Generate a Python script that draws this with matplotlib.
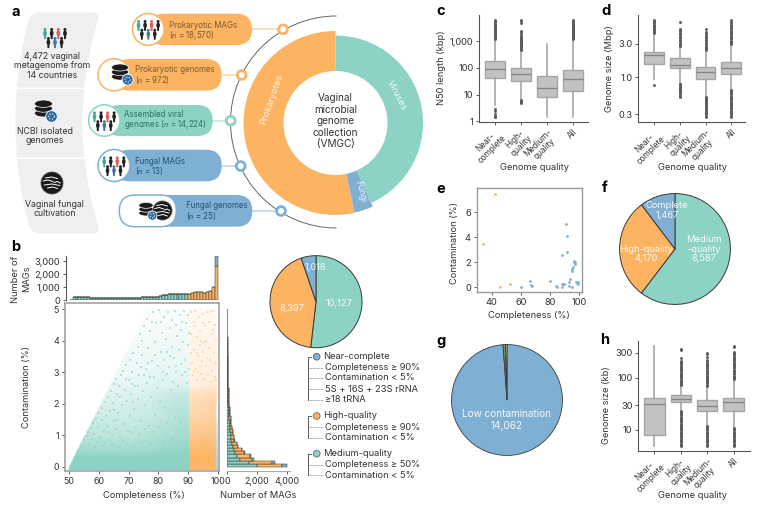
import numpy as np
import matplotlib
matplotlib.use('Agg')
import matplotlib.pyplot as plt
from matplotlib.patches import Circle, Ellipse, FancyBboxPatch, Wedge, Arc, Polygon
from matplotlib.colors import LinearSegmentedColormap
from matplotlib.ticker import FixedLocator, NullLocator, FuncFormatter

plt.rcParams['font.family'] = ['Inter', 'DejaVu Sans']
plt.rcParams['mathtext.fontset'] = 'custom'
plt.rcParams['mathtext.rm'] = 'Inter'
plt.rcParams['mathtext.it'] = 'Roboto:italic'

W, H = 763, 507
TEAL, ORANGE, BLUE = '#8dd3c5', '#fdb462', '#7fb0d3'
INK = '#333333'
FS = 6.7

# ---- data -------------------------------------------------------------
donut_labels = ['Viruses', 'Fungi', 'Prokaryotes']
donut_spans = [156, 12, 192]

hist_comp_bins = list(range(50, 100))
hist_top_teal = [60, 220, 220, 220, 220, 220, 220, 190, 190, 180, 180, 170, 170, 170, 170, 170, 170,
                 170, 180, 180, 210, 200, 190, 190, 230, 230, 250, 260, 270, 280, 350, 390, 430, 470,
                 500, 510, 510, 510, 510, 500, 0, 0, 0, 0, 0, 0, 0, 0, 0, 0]
hist_top_orange = [0] * 40 + [500, 590, 620, 640, 640, 560, 470, 610, 720, 1000]
hist_top_orange[-1] = 2650
hist_top_orange[-2] = 1000
hist_top_orange[-3] = 720
hist_top_orange[-4] = 610
hist_top_blue = [0] * 49 + [720]

hist_cont_bins = [i / 10 for i in range(50)]
hist_side_teal = [2000, 1450, 880, 700, 550, 480, 400, 350, 300, 280, 250, 230, 210, 190, 170, 160, 150,
                  130, 120, 110, 100, 90, 85, 80, 70, 65, 60, 55, 50, 50, 45, 40, 40, 35, 35, 30, 30, 30,
                  25, 25, 25, 20, 20, 20, 20, 15, 15, 15, 15, 15]
hist_side_orange = [1700, 1550, 820, 850, 600, 500, 330, 300, 200, 180, 150, 140, 120, 100, 90, 90, 80, 70,
                    60, 55, 50, 45, 40, 40, 35, 30, 30, 28, 25, 25, 22, 20, 20, 18, 18, 15, 15, 15, 12, 12,
                    12, 10, 10, 10, 10, 8, 8, 8, 8, 8]
hist_side_blue = [300, 250, 100, 50, 50, 20, 20, 10, 10, 10] + [0] * 40

grid_cont = [-.15, .3, .5, 1, 1.5, 2, 2.3, 2.6, 3, 3.5, 4, 4.5, 5.2]
grid_comp_teal = [50, 52.5, 55, 57.5, 60, 62.5, 65, 67.5, 70, 72.5, 75, 77.5, 80, 82.5, 85, 87.5, 90.4]
density_teal = [
    [1, 1, 1, 1, 1, 1, 1, 1, 1, 1, 1, 1, 1, 1, 1, 1, 1],
    [1, 1, 1, 1, 1, 1, 1, 1, 1, 1, 1, 1, 1, 1, 1, 1, 1],
    [.88, .86, .84, .82, .82, .82, .82, .82, .84, .84, .86, .88, .9, .92, .94, .95, .96],
    [.6, .6, .6, .6, .58, .58, .58, .58, .58, .6, .62, .65, .68, .72, .76, .78, .8],
    [.45, .45, .45, .45, .45, .45, .45, .45, .45, .47, .5, .52, .56, .6, .64, .68, .7],
    [.32, .32, .32, .32, .32, .34, .36, .36, .38, .38, .4, .44, .48, .52, .56, .6, .6],
    [.25, .25, .25, .25, .25, .26, .28, .28, .3, .3, .32, .36, .4, .44, .48, .5, .5],
    [.2, .2, .2, .2, .2, .2, .22, .22, .22, .22, .24, .26, .26, .28, .28, .28, .28],
    [.15, .15, .15, .15, .15, .15, .15, .15, .16, .18, .18, .2, .22, .22, .22, .22, .22],
    [.12, .12, .12, .12, .12, .12, .12, .12, .13, .13, .14, .15, .16, .17, .17, .16, .16],
    [.1, .1, .1, .1, .1, .1, .1, .1, .1, .1, .11, .12, .13, .14, .14, .13, .13],
    [.07, .07, .07, .07, .07, .07, .07, .07, .07, .07, .08, .08, .09, .1, .1, .1, .1],
    [.04, .04, .04, .04, .04, .04, .04, .04, .04, .04, .04, .04, .05, .06, .06, .06, .06],
]
grid_comp_orange = [90.4, 92.5, 95, 97.5, 99.4]
density_orange = [
    [.95, .95, .95, .95, .9], [1, 1, 1, .98, .95], [.92, .95, .95, .92, .9], [.72, .75, .76, .76, .76],
    [.58, .58, .62, .64, .66], [.48, .48, .5, .55, .55], [.4, .4, .42, .45, .46], [.2, .2, .22, .26, .28],
    [.16, .16, .18, .18, .2], [.15, .15, .15, .16, .16], [.13, .13, .13, .14, .14], [.11, .11, .11, .11, .11], [.07, .08, .08, .09, .09],
]
grid_comp_blue = [99.4, 100.2]
density_blue = [[1, 1], [.9, .9], [.8, .8], [.6, .6], [.35, .35], [.15, .15], [.05, .05], [0, 0], [0, 0], [0, 0], [0, 0], [0, 0], [0, 0]]

sparse_teal = [
    (53, .52), (54, .71), (54.5, .6), (55, .88), (55.5, .55), (56, .97), (56.5, 1.11), (57, .73), (57.3, 1.22), (57.8, .9),
    (58, 1.38), (58.5, 1.05), (59, 1.52), (59.3, .8), (59.8, 1.27), (60, 1.71), (60.4, .95), (60.9, 1.48), (61.2, 1.88), (61.7, 1.13),
    (62, 2.05), (62.4, 1.62), (62.8, 1.3), (63, 2.22), (63.4, .85), (63.7, 1.78), (64, 2.41), (64.3, 1.02), (64.6, 2.02), (65, 2.63),
    (65.2, 1.45), (65.6, 2.8), (65.9, 1.2), (66.2, 2.3), (66.5, 1.7), (66.9, 2.55), (67.2, .95), (67.5, 2.9), (67.9, 1.95), (68.2, 3.05),
    (68.5, 1.35), (68.8, 2.45), (69.1, 3.22), (69.4, 2.1), (69.7, 1.15), (70, 2.75), (70.3, 3.4), (70.6, 1.6), (70.9, 2.3), (71.2, 3.0),
    (71.5, 3.6), (71.8, 1.85), (72.1, 2.55), (72.4, 1.25), (72.7, 3.3), (73, 3.8), (73.3, 2.15), (73.6, 2.9), (73.9, 4.2), (74.2, 1.45),
    (74.5, 3.55), (74.8, 2.4), (75.1, 4.45), (75.4, 1.95), (75.7, 3.1), (76, 4.68), (76.3, 2.65), (76.6, 3.75), (76.9, 1.3), (77.2, 4.3),
    (77.5, 2.2), (77.8, 3.35), (78.1, 4.9), (78.4, 2.85), (78.7, 3.95), (79, 1.65), (79.3, 4.55), (79.6, 2.5), (79.9, 3.2), (80.2, 4.98),
    (80.5, 2.05), (80.8, 3.65), (81.1, 4.25), (81.4, 2.75), (81.7, 4.75), (82, 3.4), (82.3, 1.9), (82.6, 4.05), (82.9, 2.95), (83.2, 4.9),
    (83.5, 3.15), (83.8, 4.4), (84.1, 2.45), (84.4, 3.8), (84.7, 4.65), (85, 2.7), (85.3, 3.45), (85.6, 4.95), (85.9, 3.0), (86.2, 4.15),
    (86.5, 2.55), (86.8, 3.7), (87.1, 4.8), (87.4, 3.25), (87.7, 4.35), (88, 2.9), (88.3, 3.95), (88.6, 4.95), (88.9, 3.4), (89.2, 4.55),
    (89.5, 2.65), (89.8, 3.85), (90.1, 4.25), (90.3, 3.1), (62, .75), (64.5, .7), (67, .62), (69.5, .72), (72, .66), (74.5, .8),
    (77, .72), (79.5, .85), (82, .75), (84.5, .9), (86.5, .8), (58.7, .62), (61, .68), (66, 1.48), (68, .82), (70.7, 1.1),
    (73.5, 1.02), (75.5, 1.2), (78, 1.1), (80.5, 1.25), (83, 1.4), (85.5, 1.55), (87.5, 1.4), (71, 2.62), (74, 3.15), (76.5, 3.3),
    (79, 3.55), (81.5, 3.0), (84, 3.5), (86, 3.2), (89, 3.0), (74.5, 4.0), (77.8, 4.6), (81, 4.6), (83, 3.65), (86, 4.5),
    (88, 4.6), (90, 4.8), (63, 1.1), (65, 1.8), (67, 2.2), (69, 2.8), (71.5, 2.05), (73, 2.55), (75, 2.9), (77, 2.85),
]
sparse_orange = [
    (90.8, 4.9), (91, 4.2), (91.2, 3.3), (91.5, 2.9), (91.8, 4.6), (92, 3.7), (92.2, 4.95), (92.5, 3.1), (92.8, 4.1), (93, 2.75),
    (93.2, 3.5), (93.5, 4.75), (93.8, 3.85), (94, 4.3), (94.2, 2.95), (94.5, 3.35), (94.8, 4.85), (95, 3.65), (95.2, 2.8), (95.5, 4.45),
    (95.8, 3.2), (96, 4.0), (96.2, 4.9), (96.5, 2.9), (96.8, 3.75), (97, 4.6), (97.2, 3.4), (97.5, 2.7), (97.8, 4.2), (98, 3.05),
    (98.2, 4.95), (98.5, 3.6), (98.8, 2.85), (99, 4.5), (99.2, 3.3), (99.4, 4.05), (91.4, 3.95), (92.4, 4.45), (93.4, 3.0), (94.4, 4.0),
    (95.4, 3.95), (96.4, 3.45), (97.4, 4.9), (98.4, 4.35), (99.3, 2.75), (90.9, 3.6), (91.9, 3.05), (92.9, 3.6), (93.9, 3.2), (94.9, 4.55),
]

pie_b_values = [10127, 8397, 1018]
pie_b_labels = ['10,127', '8,397', '1,018']
pie_f_values = [8587, 4170, 1467]
pie_g_values = [14062, 100, 62]

box_names = ['Near-\ncomplete', 'High-\nquality', 'Medium-\nquality', 'All']
c_q1 = [40, 33, 8, 14]
c_med = [90, 60, 18, 37]
c_q3 = [185, 97, 50, 80]
c_lo = [4, 7, 1.4, 1.4]
c_hi = [1100, 450, 800, 1100]
c_fliers = [
    [1.4, 1.5, 1.6, 1.9, 2.4, 3, 1150, 1250, 1350, 1500, 1650, 1800, 1950, 2100, 2300, 2500, 2700, 2950, 3200, 3500, 3800, 4100, 4500, 5000, 5500, 6000],
    [5, 5.3, 5.6, 6, 6.5, 460, 500, 540, 580, 630, 680, 730, 790, 850, 920, 1000, 1080, 1170, 1260, 1360, 1470, 1600, 1800, 2100, 2400, 4800, 5400, 6000],
    [],
    [1150, 1250, 1350, 1450, 1600, 1750, 1900, 2050, 2200, 2400, 2600, 2800, 3050, 3300, 3600, 3900, 4200, 4600, 5000, 5400, 5800, 6200],
]
d_q1 = [1.53, 1.34, .94, 1.11]
d_med = [2.07, 1.48, 1.18, 1.35]
d_q3 = [2.3, 1.86, 1.39, 1.63]
d_lo = [.95, .82, .54, .66]
d_hi = [4.2, 2.7, 2.3, 2.87]
d_fliers = [
    [.78, 4.3, 4.45, 4.6, 4.75, 4.9, 5.1, 5.25, 5.4, 5.6, 5.8, 6, 6.2, 6.5],
    [.53, .55, .57, .59, .61, .63, .65, .67, .69, .71, .73, .75, .77, .79, .81, 2.75, 2.9, 3, 3.1, 3.25, 3.4, 3.55, 3.7, 3.85, 4.05, 4.25, 4.5, 4.7, 4.9, 6.1],
    [.27, .285, .3, .31, .32, .33, .345, .36, .37, .385, .4, .415, .43, .445, .46, .475, .49, .51, .53, 2.4, 2.5, 2.6, 2.7, 2.8, 2.95, 3.1, 3.25, 3.4, 3.55, 3.7, 3.85, 4.05, 4.4, 4.8],
    [.27, .285, .3, .31, .32, .335, .35, .36, .375, .39, .405, .42, .435, .45, .47, .49, .51, .53, .55, .57, .59, .61, .63, .65,
     3, 3.1, 3.2, 3.3, 3.45, 3.6, 3.75, 3.9, 4.05, 4.2, 4.4, 4.6, 4.8, 5, 5.2, 5.4, 5.6, 5.85, 6.1, 6.4],
]
h_q1 = [8, 35, 23, 23.5]
h_med = [32, 40, 29, 34]
h_q3 = [41.5, 46, 37, 41.5]
h_lo = [5, 24, 12.5, 11]
h_hi = [407, 70, 67, 90]
h_fliers = [
    [],
    [5, 5.2, 5.5, 5.8, 6.1, 6.4, 6.8, 7.2, 7.6, 8, 8.4, 8.8, 9.3, 9.8, 10.3, 10.8, 11.4, 12, 12.6, 13.3, 14, 14.7, 15.5, 16.3, 17.2, 18.1, 19, 20, 21, 22, 23,
     72, 76, 80, 84, 88, 92, 97, 102, 107, 113, 119, 125, 132, 139, 146, 154, 162, 170, 179, 188, 198, 208, 240, 340, 355],
    [5, 5.2, 5.5, 5.8, 6.1, 6.4, 6.8, 7.2, 7.6, 8, 8.4, 8.8, 9.3, 9.8, 10.3, 10.8, 11.4, 12,
     70, 74, 78, 82, 86, 90, 95, 100, 105, 110, 116, 122, 128, 135, 142, 150, 158, 166, 175, 185, 195, 205, 220, 250, 280, 300],
    [5, 5.2, 5.5, 5.8, 6.1, 6.4, 6.8, 7.2, 7.6, 8, 8.4, 8.8, 9.3, 9.8, 10.3, 10.8,
     95, 100, 105, 110, 116, 122, 128, 135, 142, 150, 158, 166, 175, 185, 195, 205, 216, 228, 240, 253, 267, 280, 295, 310, 380, 400],
]
e_blue_x = [60, 66, 67, 68, 80, 84, 85, 88, 88, 89, 90, 88.5, 91, 92, 92, 93, 93, 94, 95, 95, 95.5, 96, 96.5, 96.8, 98, 99, 99, 97, 97, 98.5]
e_blue_y = [0, .5, .2, .1, .5, .1, 0, .3, 0, .3, .3, 2.6, 5.1, 4.1, 2.8, .4, .1, .7, 0, 1.3, 1.5, 1.6, 2, 2.1, .4, .3, .4, 1.9, 2, .35]
e_orange_x = [34, 42.5, 46, 52.5]
e_orange_y = [3.5, 7.5, 0, .3]


# ---- helpers ------------------------------------------------------------
fig = plt.figure(figsize=(W / 100, H / 100), dpi=100, facecolor='white')


def axpx(l, t, r, b, **kw):
    return fig.add_axes([l / W, 1 - b / H, (r - l) / W, (b - t) / H], **kw)


ov = axpx(0, 0, W, H, zorder=10)
ov.set_xlim(0, W)
ov.set_ylim(H, 0)
ov.axis('off')
ov.patch.set_alpha(0)
under = axpx(0, 0, W, H, zorder=0)
under.set_xlim(0, W)
under.set_ylim(H, 0)
under.axis('off')


def T(x, y, s, ha='center', va='center', size=FS, color=INK, **kw):
    ov.text(x, y, s, ha=ha, va=va, fontsize=size, color=color, **kw)


def style(ax, labelsize=FS):
    ax.tick_params(labelsize=labelsize, length=2.2, width=.6, color='#444444', labelcolor=INK, pad=2)
    ax.patch.set_alpha(0)
    for s in ('top', 'right'):
        ax.spines[s].set_visible(False)
    for s in ('left', 'bottom'):
        ax.spines[s].set_color('#555555')
        ax.spines[s].set_linewidth(.8)


for letter, x, y in [('a', 16, 12), ('b', 16, 247), ('c', 441, 11), ('d', 606, 11), ('e', 441, 189),
                     ('f', 605, 188), ('g', 441, 341), ('h', 605, 340)]:
    T(x, y, letter, size=10.5, color='black', fontweight='bold')


# ---- panel a -------------------------------------------------------------
def band(y0, y1, rt=0, rb=0):
    y = np.linspace(y0, y1, 160)
    u = (y - 122) / 110
    xl = 15 + 15 * u ** 2
    xr = 82 + 18 * u ** 2
    for r, d in ((rt, y - y0), (rb, y1 - y)):
        if r:
            c = np.where(d < r, r - np.sqrt(np.maximum(r ** 2 - (r - d) ** 2, 0)), 0)
            xl = xl + c
            xr = xr - c
    under.fill_betweenx(y, xl, xr, color='#efefef', lw=0)


band(12, 87, rt=8)
band(88.5, 157)
band(158.5, 232.7, rb=8)

T(52, 56.5, '4,472 vaginal', size=6.3)
T(52, 66, 'metagenome from', size=6.3)
T(52, 75, '14 countries', size=6.3)
T(45, 131, 'NCBI isolated', size=6.3)
T(45, 140.5, 'genomes', size=6.3)
T(54.5, 204.5, 'Vaginal fungal', size=6.3)
T(54.5, 214, 'cultivation', size=6.3)


def person(x, y, c, s=1.0):
    ov.add_patch(Circle((x, y - 3.6 * s), 1.5 * s, fc=c, ec='none', zorder=6))
    ov.add_patch(Ellipse((x, y + .1 * s), 3.7 * s, 5.3 * s, fc=c, ec='none', zorder=6))
    ov.fill([x - 1.3 * s, x + 1.3 * s, x + .9 * s, x - .9 * s], [y, y, y + 6 * s, y + 6 * s], color=c, lw=0, zorder=6)


def people(cx, cy, s=1.0):
    for dx, c in zip((-10, -3.3, 3.3, 10), ('#3fa89a', '#222222', '#d9625e', '#222222')):
        person(cx + dx * s, cy - 4.4 * s, c, s)
    for dx, c in zip((-6.6, 0, 6.6), ('#222222', '#3f78ad', '#222222')):
        person(cx + dx * s, cy + 4.6 * s, c, s)


def db(cx, cy, s=1.0, badge=True):
    for dy in (3.8, -1, -5.8):
        ov.add_patch(Ellipse((cx, cy + dy * s), 18 * s, 7.4 * s, fc='#1c1c1c', ec='white', lw=.5, zorder=6))
    if badge:
        bx, by = cx + 8 * s, cy + 7 * s
        ov.add_patch(Circle((bx, by), 5.8 * s, fc='#2f6ba5', ec='white', lw=.6, zorder=7))
        ov.add_patch(Arc((bx, by), 5.5 * s, 5.5 * s, theta1=0, theta2=360, ec='white', lw=.7, ls=(0, (1.2, 1.6)), zorder=8))


def petri(cx, cy, r=11):
    ov.add_patch(Circle((cx, cy), r, fc='#181818', ec='#555555', lw=.6, zorder=6))
    for dy, a, b in [(-5, -.6, .5), (-2, -.8, .1), (-.5, .2, .75), (2, -.7, .7), (5, -.4, .5)]:
        ov.plot([cx + a * r, cx + (a + b) / 2 * r, cx + b * r], [cy + dy, cy + dy - 1, cy + dy + .5], color='white', lw=.7, zorder=7)


people(55, 37.5)
db(43.5, 109.5, 1.0)
petri(52, 183, 11)

ring_c = (336.5, 122)
ov.add_patch(Arc(ring_c, 212, 212, theta1=90, theta2=270, ec='#666666', lw=.7, zorder=1))

pills = [
    (148.3, 252, 13.7, 45, ORANGE, '#7a5a2e', 283, 29.3, 169.3, 25, 35, 'Prokaryotic MAGs', '(n = 18,570)'),
    (114, 221.7, 59, 90.7, ORANGE, '#7a5a2e', 241.7, 75, 135, 70, 80, 'Prokaryotic genomes', '(n = 972)'),
    (104.3, 212.7, 105, 136, TEAL, '#2c7467', 230.7, 120.7, 124.3, 114.5, 124.5, 'Assembled viral', 'genomes (n = 14,224)'),
    (114, 221.7, 149.7, 181.3, BLUE, '#235078', 240.7, 166, 135, 161, 171, 'Fungal MAGs', '(n = 13)'),
    (140, 252.3, 195, 226.7, BLUE, '#235078', 281, 211, 186, 206, 216, 'Fungal genomes', '(n = 25)'),
]
for i, (x0, x1, y0, y1, col, tc, nx, ny, tx, ty1, ty2, l1, l2) in enumerate(pills):
    h = y1 - y0
    ov.plot([x1 - 2, nx], [(y0 + y1) / 2] * 2, color=col, lw=1.1, alpha=.55, zorder=2)
    ov.add_patch(FancyBboxPatch((x0, y0), x1 - x0, h, boxstyle=f'round,pad=0,rounding_size={h / 2}', fc=col, ec='none', zorder=3))
    if i < 4:
        ov.add_patch(Circle((x0, (y0 + y1) / 2), h / 2 + .2, fc='white', ec=col, lw=1.1, zorder=4))
    else:
        ov.add_patch(FancyBboxPatch((119.3, y0), 57, h, boxstyle=f'round,pad=0,rounding_size={h / 2}', fc='white', ec=col, lw=1.1, zorder=4))
    ov.add_patch(Circle((nx, ny), 4.4, fc='white', ec=col, lw=2, zorder=5))
    T(tx, ty1, l1, ha='left', size=5.7, color=tc, zorder=6)
    T(tx, ty2, l2.replace('n =', r'$\it{n}$ ='), ha='left', size=5.7, color=tc, zorder=6)
people(148.3, 29.3, .98)
db(120, 73, .95)
people(104.3, 120.7, .98)
people(114, 165.7, .98)
db(146, 210, .8)
petri(162.5, 210.5, 9.5)

dc = (335.5, 123)
start = 90
for name, span, col, rout in zip(donut_labels, donut_spans, (TEAL, BLUE, ORANGE), (87.5, 91.5, 92)):
    # visual clockwise sweep; y axis of this layer points down
    ov.add_patch(Wedge(dc, rout, -start, -start + span, width=rout - 52, fc=col, ec='none', zorder=1.5 if col != BLUE else 1.7))
    start -= span
T(272, 99, 'Prokaryotes', rotation=71, color='#fff5e6', size=6.7)
T(396.5, 95, 'Viruses', rotation=-62, color='#eefaf7', size=6.7)
T(360, 191.5, 'Fungi', rotation=-75, color='#eaf3fa', size=6.2)
for k, s in enumerate(['Vaginal', 'microbial', 'genome', 'collection', '(VMGC)']):
    T(335.5, 98.3 + k * 11.4, s, size=7.2)

# ---- panel b -------------------------------------------------------------
XLIM = (48.66, 100.3)
YLIM = (-0.127, 5.19)
ax = axpx(65, 303, 219, 471, zorder=2)
cm_t = LinearSegmentedColormap.from_list('t', ['white', TEAL])
cm_o = LinearSegmentedColormap.from_list('o', ['white', ORANGE])
cm_b = LinearSegmentedColormap.from_list('b', ['white', '#b3ced6'])
m_t = ax.pcolormesh(grid_comp_teal, grid_cont, density_teal, shading='gouraud', cmap=cm_t, vmin=0, vmax=1)
m_t.set_clip_path(Polygon([(49.6, -.08), (50, 0), (76.5, 5.0), (90.4, 5.0), (90.4, -.08)], transform=ax.transData))
m_o = ax.pcolormesh(grid_comp_orange, grid_cont, density_orange, shading='gouraud', cmap=cm_o, vmin=0, vmax=1)
m_o.set_clip_path(Polygon([(90.4, -.08), (90.4, 5.0), (99.6, 5.0), (99.6, -.08)], transform=ax.transData))
m_b = ax.pcolormesh(grid_comp_blue, grid_cont, density_blue, shading='gouraud', cmap=cm_b, vmin=0, vmax=1)
m_b.set_clip_path(Polygon([(99.4, -.08), (99.4, 2), (100.1, 2), (100.1, -.08)], transform=ax.transData))
ax.scatter([p[0] for p in sparse_teal], [p[1] for p in sparse_teal], s=3.5, color=TEAL, alpha=.6, lw=0, marker='s')
ax.scatter([p[0] for p in sparse_orange], [p[1] for p in sparse_orange], s=3.5, color=ORANGE, alpha=.4, lw=0, marker='s')
ax.set_xlim(*XLIM)
ax.set_ylim(*YLIM)
ax.set_xticks([50, 60, 70, 80, 90, 100])
ax.set_yticks([0, 1, 2, 3, 4, 5])
ax.tick_params(labelsize=6.4, length=2.2, width=.6, color='#444444', labelcolor=INK, pad=2)
for s in ax.spines.values():
    s.set_color('#9a9a9a')
    s.set_linewidth(1.1)
T(26.5, 386.7, 'Contamination (%)', rotation=90)
T(144, 495, 'Completeness (%)')

atop = axpx(65.6, 256, 219, 300.3, zorder=2)
btm_o = np.array(hist_top_teal)
atop.bar(hist_comp_bins, hist_top_teal, 1, align='edge', color=TEAL, ec='#333333', lw=.35)
atop.bar(hist_comp_bins, hist_top_orange, 1, bottom=btm_o, align='edge', color=ORANGE, ec='#333333', lw=.35)
atop.bar(hist_comp_bins, hist_top_blue, 1, bottom=btm_o + np.array(hist_top_orange), align='edge', color=BLUE, ec='#333333', lw=.35)
atop.set_xlim(*XLIM)
atop.set_ylim(0, 3400)
atop.set_xticks([])
atop.set_yticks([0, 1000, 2000, 3000])
atop.yaxis.set_major_formatter(FuncFormatter(lambda v, p: f'{int(v):,}'))
style(atop)
atop.spines['bottom'].set_visible(False)
T(15.5, 279, 'Number of', rotation=90)
T(26.5, 279, 'MAGs', rotation=90)

aside = axpx(227, 303, 290, 471, zorder=2)
t_ = np.array(hist_side_teal)
o_ = np.array(hist_side_orange)
aside.barh(hist_cont_bins, t_, .1, align='edge', color=TEAL, ec='#333333', lw=.35)
aside.barh(hist_cont_bins, o_, .1, left=t_, align='edge', color=ORANGE, ec='#333333', lw=.35)
aside.barh(hist_cont_bins, hist_side_blue, .1, left=t_ + o_, align='edge', color=BLUE, ec='#333333', lw=.35)
aside.set_ylim(*YLIM)
aside.set_xlim(0, 4230)
aside.set_yticks([])
aside.set_xticks([0, 2000, 4000])
aside.xaxis.set_major_formatter(FuncFormatter(lambda v, p: f'{int(v):,}'))
style(aside, labelsize=6.4)
aside.spines['left'].set_visible(False)
aside.spines['bottom'].set_color('#aaaaaa')
T(258, 495, 'Number of MAGs')


def pie_at(cx, cy, r, vals, cols, lw=.7):
    a = axpx(cx - r, cy - r, cx + r, cy + r, zorder=3)
    a.pie(vals, colors=cols, startangle=90, counterclock=False, radius=1,
          wedgeprops=dict(edgecolor='#3a3a3a', linewidth=lw))
    a.set_xlim(-1.01, 1.01)
    a.set_ylim(-1.01, 1.01)
    return a


pie_at(316, 301.7, 46.5, pie_b_values, [TEAL, ORANGE, BLUE])
T(339, 303, pie_b_labels[0], color='white', alpha=.85)
T(291.5, 308.5, pie_b_labels[1], color='white', alpha=.85)
T(315.5, 267.5, pie_b_labels[2], color='white', alpha=.85)

groups = [
    (356.7, BLUE, 'Near-complete', [(367.7, 'Completeness ≥ 90%'), (378, 'Contamination < 5%'), (389, '5S + 16S + 23S rRNA'), (400, '≥18 tRNA')]),
    (416, ORANGE, 'High-quality', [(427, 'Completeness ≥ 90%'), (437.7, 'Contamination < 5%')]),
    (453.7, TEAL, 'Medium-quality', [(464.7, 'Completeness ≥ 50%'), (475.3, 'Contamination < 5%')]),
]
for y0, col, name, rows in groups:
    ov.plot([311, 307.7, 307.7], [y0, y0, rows[-1][0]], color='#444444', lw=.6)
    ov.add_patch(Circle((316.7, y0), 3.4, fc=col, ec='#555555', lw=.5))
    T(323, y0, name, ha='left')
    for y, s in rows:
        ov.plot([308, 323], [y, y], color='#555555', lw=.5, ls=(0, (1, 1)))
        T(325.3, y, s, ha='left')


# ---- box panels ----------------------------------------------------------
def boxes(ax, q1, med, q3, lo, hi, fl, width):
    stats = [dict(q1=a, med=b, q3=c, whislo=d, whishi=e, fliers=f) for a, b, c, d, e, f in zip(q1, med, q3, lo, hi, fl)]
    ax.bxp(stats, positions=range(4), widths=width, patch_artist=True, showcaps=False,
           boxprops=dict(facecolor='#c2c2c2', edgecolor='#a5a5a5', linewidth=1),
           medianprops=dict(color='#858585', linewidth=1),
           whiskerprops=dict(color='#a5a5a5', linewidth=1.2),
           flierprops=dict(marker='o', markersize=2.1, markerfacecolor='#5c5c5c', markeredgecolor='none'))
    ax.set_yscale('log')
    ax.set_xticks(range(4))
    ax.set_xticklabels(box_names, rotation=45, ha='right', rotation_mode='anchor', linespacing=1.0, ma='center', fontsize=5.9)
    ax.yaxis.set_minor_locator(NullLocator())
    style(ax)
    ax.tick_params(axis='x', labelsize=5.9, pad=1.5)


a = axpx(479.3, 15, 588, 121.7, zorder=2)
boxes(a, c_q1, c_med, c_q3, c_lo, c_hi, c_fliers, .77)
a.set_xlim(-.604, 3.58)
a.set_ylim(.97, 9400)
a.yaxis.set_major_locator(FixedLocator([1, 10, 100, 1000]))
a.set_yticklabels(['1', '10', '100', '1,000'])
T(442, 68, 'N50 length (kbp)', rotation=90)
T(534, 167, 'Genome quality')

a = axpx(638.3, 15, 745, 122.3, zorder=2)
boxes(a, d_q1, d_med, d_q3, d_lo, d_hi, d_fliers, .77)
a.set_xlim(-.61, 3.53)
a.set_ylim(.229, 7.65)
a.yaxis.set_major_locator(FixedLocator([.3, 1, 3]))
a.set_yticklabels(['0.3', '1.0', '3.0'])
T(610, 68, 'Genome size (Mbp)', rotation=90)
T(692, 167, 'Genome quality')

a = axpx(638.3, 341, 750, 450.7, zorder=2)
boxes(a, h_q1, h_med, h_q3, h_lo, h_hi, h_fliers, .77)
a.set_xlim(-.61, 3.62)
a.set_ylim(4.02, 503)
a.yaxis.set_major_locator(FixedLocator([10, 30, 100, 300]))
a.set_yticklabels(['10', '30', '100', '300'])
T(607, 405, 'Genome size (kb)', rotation=90)
T(693, 496, 'Genome quality')

# ---- panel e -------------------------------------------------------------
a = axpx(476.7, 188.3, 582.3, 291.7, zorder=2)
a.scatter(e_blue_x, e_blue_y, s=4, color=BLUE, lw=0)
a.scatter(e_orange_x, e_orange_y, s=4, color=ORANGE, lw=0)
a.set_xlim(29.7, 102.3)
a.set_ylim(-.35, 7.92)
a.set_xticks([40, 60, 80, 100])
a.set_yticks([0, 2, 4, 6])
a.tick_params(labelsize=FS, length=2.2, width=.6, color='#444444', labelcolor=INK, pad=2)
for s in a.spines.values():
    s.set_color('#9a9a9a')
    s.set_linewidth(1)
T(454, 243, 'Contamination (%)', rotation=90)
T(529, 315, 'Completeness (%)')

# ---- panels f, g ----------------------------------------------------------
pie_at(675, 249, 56, pie_f_values, [TEAL, ORANGE, BLUE])
T(666.7, 210.7, 'Complete\n1,467', color='white', alpha=.9, linespacing=1.1)
T(646, 254, 'High-quality\n4,170', color='white', alpha=.9, linespacing=1.1)
T(704, 249, 'Medium\n-quality\n8,587', color='white', alpha=.9, linespacing=1.1)

pie_at(507, 400, 56, pie_g_values, [BLUE, '#5aa06e', ORANGE], lw=.6)
T(507, 420, 'Low contamination\n14,062', color='white', alpha=.9, linespacing=1.15, size=7.2)

fig.savefig('out.png', dpi=100, facecolor='white')
